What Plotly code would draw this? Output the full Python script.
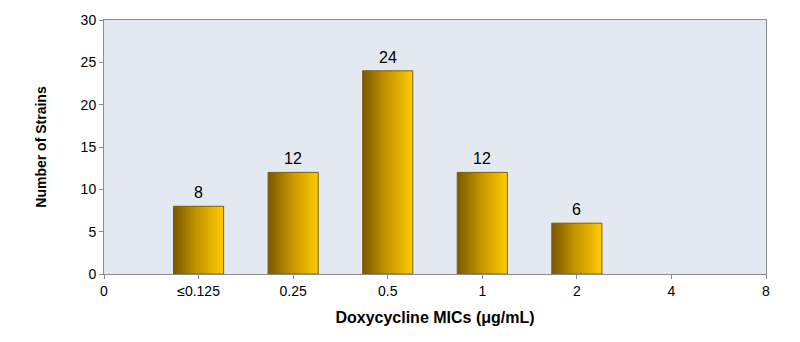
import plotly.graph_objects as go

tick_labels = ["0", "≤0.125", "0.25", "0.5", "1", "2", "4", "8"]
categories = ["≤0.125", "0.25", "0.5", "1", "2"]
strains = [8, 12, 24, 12, 6]

FONT = "Liberation Sans, Arial, sans-serif"
half_w = 0.265
fig = go.Figure()
positions = [tick_labels.index(c) for c in categories]

for pos, val in zip(positions, strains):
    xs = [pos - half_w, pos + half_w, pos + half_w, pos - half_w, pos - half_w]
    ys = [0, 0, val, val, 0]
    fig.add_trace(go.Scatter(
        x=xs, y=ys, mode="lines", fill="toself",
        line=dict(color="#7a5e0a", width=1),
        fillgradient=dict(type="horizontal",
                          colorscale=[[0, "#7a5800"], [0.45, "#c29200"], [1, "#ffcc00"]]),
        hoverinfo="skip", showlegend=False,
    ))
    fig.add_annotation(x=pos, y=val, text=str(val), showarrow=False,
                       yanchor="bottom", yshift=3,
                       font=dict(size=16, color="#000000", family=FONT))

fig.update_layout(
    width=800, height=342,
    margin=dict(l=104, r=34, t=20, b=68),
    paper_bgcolor="#ffffff",
    plot_bgcolor="#e4e8f0",
    font=dict(family=FONT, size=14, color="#000000"),
)
fig.update_xaxes(
    range=[0, 7], tickmode="array", tickvals=list(range(len(tick_labels))),
    ticktext=tick_labels, showgrid=False, zeroline=False,
    showline=True, linecolor="#8c8c8c", linewidth=1, mirror=True,
    ticks="outside", ticklen=4, tickcolor="#8c8c8c",
    title=dict(text="<b>Doxycycline MICs (μg/mL)</b>", font=dict(size=16), standoff=14),
)
fig.update_yaxes(
    range=[0, 30], tickvals=[0, 5, 10, 15, 20, 25, 30], showgrid=False, zeroline=False,
    showline=True, linecolor="#8c8c8c", linewidth=1, mirror=True,
    ticks="outside", ticklen=4, tickcolor="#8c8c8c",
    title=dict(text="<b>Number of Strains</b>", font=dict(size=14), standoff=30),
)

fig.write_html("out.html")
